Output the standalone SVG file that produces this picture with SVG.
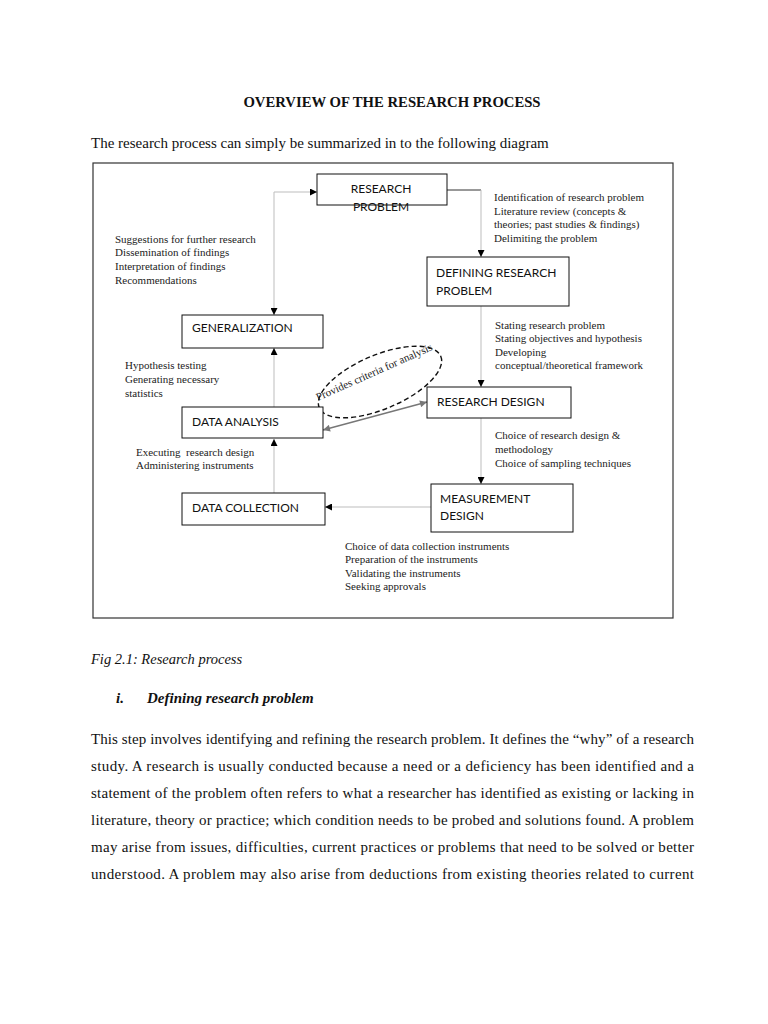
<svg xmlns="http://www.w3.org/2000/svg" width="768" height="1024" viewBox="0 0 768 1024">
<style>
.serif{font-family:"Liberation Serif","Times New Roman",serif;fill:#111}
.note{font-family:"Liberation Serif","Times New Roman",serif;font-size:11px;fill:#222}
.box{fill:#fff;stroke:#111;stroke-width:1}
.lbl{font-family:Lato,"Open Sans","Liberation Sans",sans-serif;font-size:12px;fill:#111}
.ln{fill:none;stroke:#bdbdbd;stroke-width:1}
.dk{fill:none;stroke:#333;stroke-width:1}
.para{font-family:"Liberation Serif","Times New Roman",serif;font-size:15px;fill:#111}
</style>
<defs>
<marker id="ah" viewBox="0 0 10 10" refX="10" refY="5" markerWidth="7" markerHeight="7" markerUnits="userSpaceOnUse" orient="auto-start-reverse">
<path d="M0,0 L10,5 L0,10 z" fill="#000"/>
</marker>
<marker id="ag" viewBox="0 0 10 10" refX="10" refY="5" markerWidth="9" markerHeight="7" markerUnits="userSpaceOnUse" orient="auto-start-reverse">
<path d="M0,0 L10,5 L0,10 z" fill="#777"/>
</marker>
</defs>
<rect width="768" height="1024" fill="#fff"/>

<text class="serif" x="392" y="107" font-size="14.7" font-weight="bold" text-anchor="middle">OVERVIEW OF THE RESEARCH PROCESS</text>
<text class="serif" x="91" y="148" font-size="15">The research process can simply be summarized in to the following diagram</text>

<rect x="93" y="163" width="580" height="455" fill="none" stroke="#333" stroke-width="1.2"/>

<g id="connectors">
<path class="dk" d="M447,190 H481"/>
<path class="ln" d="M481,190 V257" marker-end="url(#ah)"/>
<path class="ln" d="M481,306 V387" marker-end="url(#ah)"/>
<path class="ln" d="M481,418 V484" marker-end="url(#ah)"/>
<path class="ln" d="M431,507 H325" marker-end="url(#ah)"/>
<path class="ln" d="M274,493 V439" marker-end="url(#ah)"/>
<path class="ln" d="M274,407 V348" marker-end="url(#ah)"/>
<path class="ln" d="M274,315 V192 H317" marker-start="url(#ah)" marker-end="url(#ah)"/>
<path d="M323,430 L427,402" fill="none" stroke="#777" stroke-width="1.5" marker-start="url(#ag)" marker-end="url(#ag)"/>
<ellipse cx="380" cy="382" rx="66" ry="27" transform="rotate(-23 380 382)" fill="none" stroke="#111" stroke-width="1.4" stroke-dasharray="5,3"/>
<text class="note" font-size="12" transform="translate(318 401) rotate(-24)">Provides criteria for analysis</text>
</g>

<g id="research-problem">
<rect class="box" x="317" y="174" width="130" height="31"/>
<text class="lbl" x="381" y="193" text-anchor="middle">RESEARCH</text>
<text class="lbl" x="381" y="211" text-anchor="middle">PROBLEM</text>
</g>
<g id="defining-research-problem">
<rect class="box" x="427" y="257" width="142" height="49"/>
<text class="lbl" x="436" y="277">DEFINING RESEARCH</text>
<text class="lbl" x="436" y="295">PROBLEM</text>
</g>
<g id="research-design">
<rect class="box" x="427" y="387" width="144" height="31"/>
<text class="lbl" x="437" y="406">RESEARCH DESIGN</text>
</g>
<g id="measurement-design">
<rect class="box" x="431" y="484" width="142" height="48"/>
<text class="lbl" x="440" y="503">MEASUREMENT</text>
<text class="lbl" x="440" y="520">DESIGN</text>
</g>
<g id="data-collection">
<rect class="box" x="182" y="493" width="143" height="32"/>
<text class="lbl" x="192" y="512">DATA COLLECTION</text>
</g>
<g id="data-analysis">
<rect class="box" x="182" y="407" width="141" height="31"/>
<text class="lbl" x="192" y="426">DATA ANALYSIS</text>
</g>
<g id="generalization">
<rect class="box" x="182" y="315" width="141" height="33"/>
<text class="lbl" x="192" y="332">GENERALIZATION</text>
</g>

<g id="notes">
<text class="note" x="494"><tspan x="494" y="201">Identification of research problem</tspan><tspan x="494" y="215">Literature review (concepts &amp;</tspan><tspan x="494" y="228">theories; past studies &amp; findings)</tspan><tspan x="494" y="242">Delimiting the problem</tspan></text>
<text class="note" x="115"><tspan x="115" y="243">Suggestions for further research</tspan><tspan x="115" y="256">Dissemination of findings</tspan><tspan x="115" y="270">Interpretation of findings</tspan><tspan x="115" y="284">Recommendations</tspan></text>
<text class="note" x="495"><tspan x="495" y="329">Stating research problem</tspan><tspan x="495" y="342">Stating objectives and hypothesis</tspan><tspan x="495" y="356">Developing</tspan><tspan x="495" y="369">conceptual/theoretical framework</tspan></text>
<text class="note" x="125"><tspan x="125" y="369">Hypothesis testing</tspan><tspan x="125" y="383">Generating necessary</tspan><tspan x="125" y="397">statistics</tspan></text>
<text class="note" x="495"><tspan x="495" y="439">Choice of research design &amp;</tspan><tspan x="495" y="453">methodology</tspan><tspan x="495" y="467">Choice of sampling techniques</tspan></text>
<text class="note" x="136"><tspan x="136" y="456" xml:space="preserve">Executing  research design</tspan><tspan x="136" y="469">Administering instruments</tspan></text>
<text class="note" x="345"><tspan x="345" y="550">Choice of data collection instruments</tspan><tspan x="345" y="563">Preparation of the instruments</tspan><tspan x="345" y="577">Validating the instruments</tspan><tspan x="345" y="590">Seeking approvals</tspan></text>
</g>

<text class="serif" x="91" y="664" font-size="14.5" font-style="italic">Fig 2.1: Research process</text>
<text class="serif" x="116" y="703" font-size="15" font-style="italic" font-weight="bold">i.</text>
<text class="serif" x="147" y="703" font-size="15" font-style="italic" font-weight="bold">Defining research problem</text>

<g class="para">
<text class="para" x="91" y="744" textLength="603" lengthAdjust="spacing">This step involves identifying and refining the research problem. It defines the “why” of a research</text>
<text class="para" x="91" y="771" textLength="603" lengthAdjust="spacing">study. A research is usually conducted because a need or a deficiency has been identified and a</text>
<text class="para" x="91" y="798" textLength="603" lengthAdjust="spacing">statement of the problem often refers to what a researcher has identified as existing or lacking in</text>
<text class="para" x="91" y="825" textLength="603" lengthAdjust="spacing">literature, theory or practice; which condition needs to be probed and solutions found. A problem</text>
<text class="para" x="91" y="852" textLength="603" lengthAdjust="spacing">may arise from issues, difficulties, current practices or problems that need to be solved or better</text>
<text class="para" x="91" y="879" textLength="603" lengthAdjust="spacing">understood. A problem may also arise from deductions from existing theories related to current</text>
</g>
</svg>
